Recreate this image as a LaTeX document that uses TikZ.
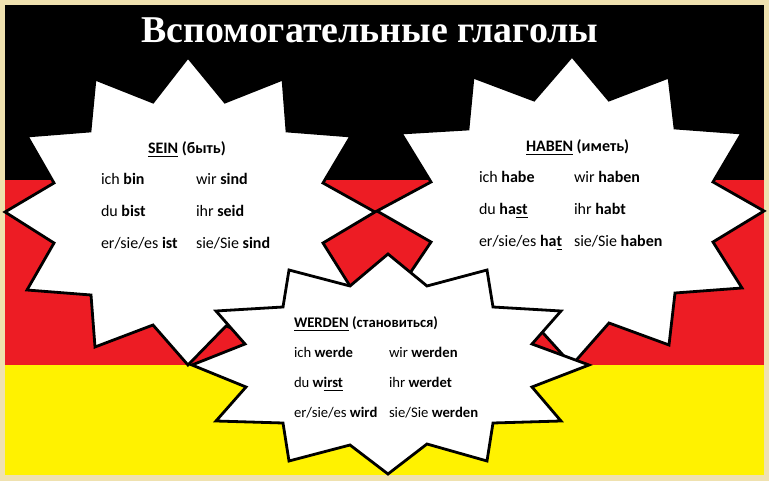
\documentclass[tikz,border=0pt]{standalone}
\usepackage{fontspec}
\setmainfont{Carlito}
\newfontfamily\titlefont{Liberation Serif}
\definecolor{frametan}{HTML}{EFE1AF}
\definecolor{flagred}{HTML}{ED1C24}
\definecolor{flagyellow}{HTML}{FFF200}
\tikzset{
  burst/.style={draw=black,fill=white,line width=2.1pt,line join=miter,miter limit=10},
  word/.style={anchor=base west,inner sep=0pt,outer sep=0pt,font=\fontsize{12}{14}\selectfont,text=black},
  head/.style={word,font=\fontsize{12}{14}\selectfont\bfseries},
  wordsm/.style={word,font=\fontsize{11}{13}\selectfont},
  headsm/.style={word,font=\fontsize{11}{13}\selectfont\bfseries},
  headline/.style={anchor=base,inner sep=0pt,text=white,font=\titlefont\fontsize{28.4}{32}\selectfont\bfseries}
}
\begin{document}
\begin{tikzpicture}[x=0.75pt,y=-0.75pt]
\useasboundingbox (0,0) rectangle (769,481);
\fill[frametan] (0,0) rectangle (769,481);
\fill[black] (5,5) rectangle (764,180);
\fill[flagred] (5,180) rectangle (764,365);
\fill[flagyellow] (5,365) rectangle (764,475);
\node[headline] (title) at (370,43) {Вспомогательные глаголы};
% SEIN
\draw[burst] (188,57)--(225,102)--(283,79)--(287,131)--(351,136)--(323,183)--(375,212)--(323,243)--(350,286)--(287,295)--(283,347)--(226,326)--(188,365)--(153,325)--(95,347)--(91,295)--(27,290)--(54,243)--(5,212)--(54,183)--(27,136)--(90,131)--(95,79)--(153,102)--cycle;
% HABEN
\draw[burst] (572,56)--(609,100)--(669,77)--(675,128)--(742,133)--(713,182)--(764,211)--(713,242)--(742,288)--(675,293)--(669,345)--(609,323)--(572,365)--(534,323)--(473,345)--(468,293)--(400,288)--(431,242)--(377,211)--(431,182)--(401,133)--(468,129)--(473,77)--(534,100)--cycle;
% WERDEN
\draw[burst] (388,254)--(427,286)--(487,270)--(493,307)--(561,311)--(532,344)--(589,365)--(532,387)--(561,421)--(493,423)--(487,461)--(427,444)--(388,474)--(350,445)--(289,461)--(283,423)--(216,421)--(246,387)--(192,365)--(245,344)--(216,311)--(283,307)--(289,270)--(350,286)--cycle;
% SEIN text
\node[head] (seinh) at (148,154) {\underline{SEIN} (быть)};
\node[word] (s1) at (101,185) {ich \textbf{bin}};
\node[word] (s2) at (101,217) {du \textbf{bist}};
\node[word] (s3) at (101,249) {er/sie/es \textbf{ist}};
\node[word] (s4) at (196,185) {wir \textbf{sind}};
\node[word] (s5) at (196,217) {ihr \textbf{seid}};
\node[word] (s6) at (196,249) {sie/Sie \textbf{sind}};
% HABEN text
\node[head] (habh) at (526,152) {\underline{HABEN} (иметь)};
\node[word] (h1) at (479,183) {ich \textbf{habe}};
\node[word] (h2) at (479,215) {du \textbf{ha\underline{st}}};
\node[word] (h3) at (479,247) {er/sie/es \textbf{ha\underline{t}}};
\node[word] (h4) at (574,183) {wir \textbf{haben}};
\node[word] (h5) at (574,215) {ihr \textbf{habt}};
\node[word] (h6) at (574,247) {sie/Sie \textbf{haben}};
% WERDEN text
\node[headsm] (werh) at (294,328) {\underline{WERDEN} (становиться)};
\node[wordsm] (w1) at (294,358) {ich \textbf{werde}};
\node[wordsm] (w2) at (294,388) {du \textbf{w\underline{irst}}};
\node[wordsm] (w3) at (294,418) {er/sie/es \textbf{wird}};
\node[wordsm] (w4) at (389,358) {wir \textbf{werden}};
\node[wordsm] (w5) at (389,388) {ihr \textbf{werdet}};
\node[wordsm] (w6) at (389,418) {sie/Sie \textbf{werden}};
\end{tikzpicture}
\end{document}
